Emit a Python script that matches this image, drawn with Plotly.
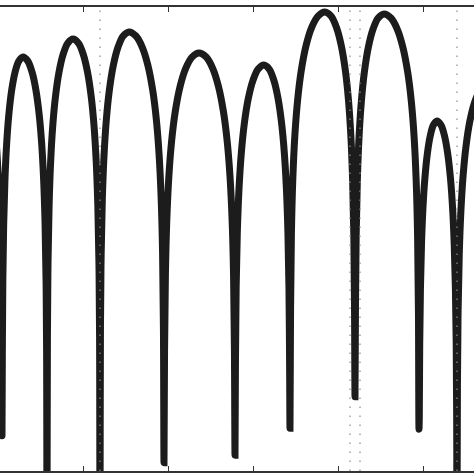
import plotly.graph_objects as go

# Curve samples (x in arbitrary axis units, level in dB)
x_vals = [
    -22, -17.2, -12.88, -9.04, -5.68, -3.28, -1.36, 0.08, 1.04, 1.62,
    2,
    2.34, 2.84, 3.68, 4.94, 6.62, 8.72, 11.66, 15.02, 18.8,
    23,
    27.8, 32.12, 35.96, 39.32, 41.72, 43.64, 45.08, 46.04, 46.62,
    47,
    47.42, 48.04, 49.08, 50.64, 52.72, 55.32, 58.96, 63.12, 67.8,
    73,
    78.4, 83.26, 87.58, 91.36, 94.06, 96.22, 97.84, 98.92, 99.57,
    100,
    100.46, 101.16, 102.32, 104.06, 106.38, 109.28, 113.34, 117.98, 123.2,
    129,
    136, 142.3, 147.9, 152.8, 156.3, 159.1, 161.2, 162.6, 163.44,
    164,
    164.56, 165.4, 166.8, 168.9, 171.7, 175.2, 180.1, 185.7, 192,
    199,
    206.2, 212.68, 218.44, 223.48, 227.08, 229.96, 232.12, 233.56, 234.42,
    235,
    235.46, 236.16, 237.32, 239.06, 241.38, 244.28, 248.34, 252.98, 258.2,
    264,
    269.2, 273.88, 278.04, 281.68, 284.28, 286.36, 287.92, 288.96, 289.58,
    290,
    290.56, 291.4, 292.8, 294.9, 297.7, 301.2, 306.1, 311.7, 318,
    325,
    331, 336.4, 341.2, 345.4, 348.4, 350.8, 352.6, 353.8, 354.52,
    355,
    355.46, 356.16, 357.32, 359.06, 361.38, 364.28, 368.34, 372.98, 378.2,
    384,
    391, 397.3, 402.9, 407.8, 411.3, 414.1, 416.2, 417.6, 418.44,
    419,
    419.29, 419.72, 420.44, 421.52, 422.96, 424.76, 427.28, 430.16, 433.4,
    437,
    441, 444.6, 447.8, 450.6, 452.6, 454.2, 455.4, 456.2, 456.68,
    457,
    457.45, 458.12, 459.24, 460.92, 463.16, 465.96, 469.88, 474.36, 479.4,
    485,
]

level_db = [
    -6.0, -6.44, -7.65, -9.59, -12.34, -15.4, -19.23, -24.04, -30.0, -38.0,
    -46.2,
    -37.39, -29.39, -23.43, -18.62, -14.79, -11.73, -8.98, -7.04, -5.83,
    -5.39,
    -5.83, -7.04, -8.98, -11.73, -14.79, -18.62, -23.43, -29.39, -37.39,
    -58,
    -35.45, -27.45, -21.49, -16.68, -12.85, -9.79, -7.04, -5.10, -3.89,
    -3.45,
    -3.89, -5.10, -7.04, -9.79, -12.85, -16.68, -21.49, -27.45, -35.45,
    -58,
    -34.69, -26.69, -20.73, -15.92, -12.09, -9.03, -6.28, -4.34, -3.13,
    -2.69,
    -3.13, -4.34, -6.28, -9.03, -12.09, -15.92, -20.73, -26.69, -34.69,
    -49.1,
    -36.96, -28.96, -23.0, -18.19, -14.36, -11.3, -8.55, -6.61, -5.4,
    -4.96,
    -5.4, -6.61, -8.55, -11.3, -14.36, -18.19, -23.0, -28.96, -36.96,
    -48.3,
    -38.25, -30.25, -24.29, -19.48, -15.65, -12.59, -9.84, -7.9, -6.69,
    -6.25,
    -6.69, -7.9, -9.84, -12.59, -15.65, -19.48, -24.29, -30.25, -38.25,
    -45.4,
    -32.54, -24.54, -18.58, -13.77, -9.94, -6.88, -4.13, -2.19, -0.98,
    -0.54,
    -0.98, -2.19, -4.13, -6.88, -9.94, -13.77, -18.58, -24.54, -32.54,
    -42.0,
    -32.75, -24.75, -18.79, -13.98, -10.15, -7.09, -4.34, -2.4, -1.19,
    -0.75,
    -1.19, -2.4, -4.34, -7.09, -10.15, -13.98, -18.79, -24.75, -32.75,
    -45.5,
    -44.28, -36.28, -30.32, -25.51, -21.68, -18.62, -15.87, -13.93, -12.72,
    -12.28,
    -12.72, -13.93, -15.87, -18.62, -21.68, -25.51, -30.32, -36.28, -44.28,
    -58,
    -40.7, -32.7, -26.74, -21.93, -18.1, -15.04, -12.29, -10.35, -9.14,
    -8.7,
]

# dotted marker lines (x positions)
marker_lines_x = [100, 350, 360, 457]

fig = go.Figure()
fig.add_trace(go.Scatter(
    x=x_vals, y=level_db, mode="lines",
    line=dict(color="#1c1c1c", width=7, shape="spline", smoothing=1.0),
    hoverinfo="skip", showlegend=False,
))

for xv in marker_lines_x:
    fig.add_shape(type="line", xref="x", yref="paper", x0=xv, x1=xv, y0=0, y1=1,
                  line=dict(color="#8a8a8a", width=1.2, dash="1.5px,7.5px"), layer="above")

fig.update_layout(
    width=474, height=474,
    margin=dict(l=0, r=0, t=7, b=3),
    paper_bgcolor="white", plot_bgcolor="white",
    showlegend=False,
)
fig.update_xaxes(range=[0, 474], showline=True, mirror="allticks", linecolor="#333333",
                 linewidth=1.5, ticks="inside", ticklen=5, tickwidth=1, tickcolor="#333333",
                 tick0=83, dtick=85, showticklabels=False, showgrid=False, zeroline=False)
fig.update_yaxes(range=[-50, 0], showline=False, showticklabels=False, ticks="",
                 showgrid=False, zeroline=False)

fig.write_html(
    "out.html",
    config={"displayModeBar": False},
    post_script="document.body.style.margin='0';document.body.style.padding='0';",
)
